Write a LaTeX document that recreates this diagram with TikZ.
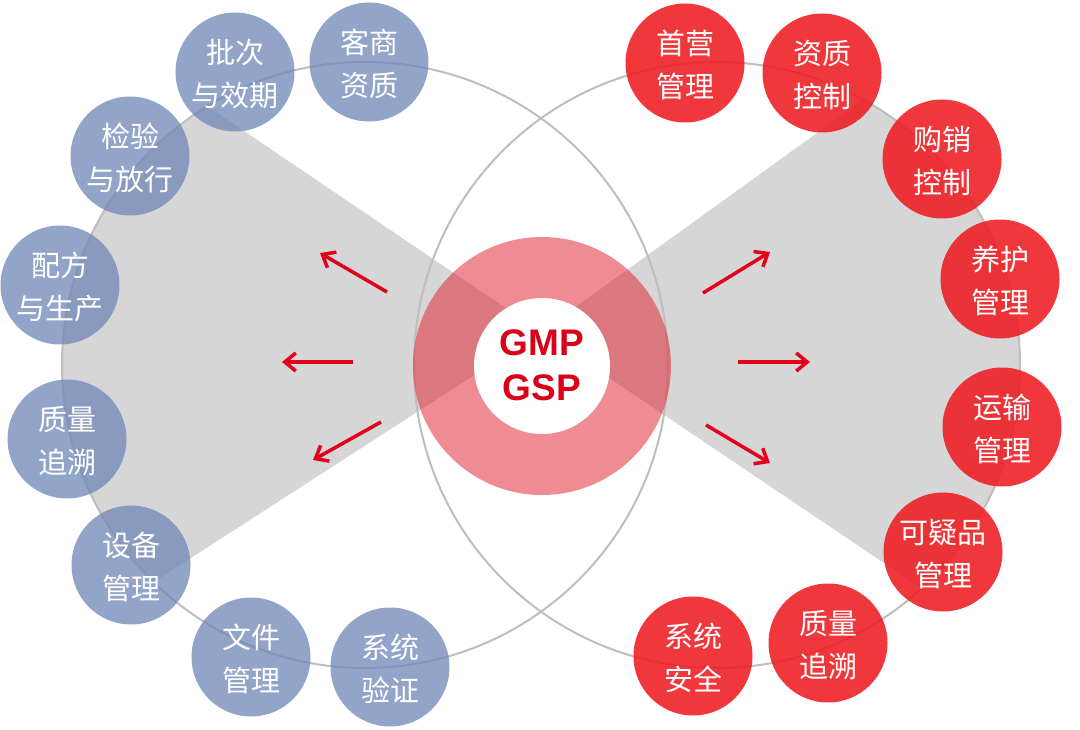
\documentclass[tikz,border=0pt]{standalone}
\usepackage{fontspec}
\newfontfamily\cjk{Noto Sans CJK SC}
\newfontfamily\gfont{Liberation Sans}
\usetikzlibrary{arrows.meta,calc}
\definecolor{nodeblue}{RGB}{112,134,183}
\definecolor{nodered}{RGB}{238,28,34}
\definecolor{wedgegray}{RGB}{214,214,214}
\definecolor{linegray}{RGB}{190,190,190}
\definecolor{ringred}{RGB}{225,25,41}
\definecolor{textred}{RGB}{218,0,24}
\definecolor{arrowred}{RGB}{226,0,26}
\begin{document}
\begin{tikzpicture}[x=1pt,y=-1pt,
  topic/.style={circle, minimum size=119pt, inner sep=0pt, text opacity=1, text=white, align=center, font=\cjk\fontsize{29pt}{43pt}\selectfont},
  bluetopic/.style={topic, fill=nodeblue, fill opacity=0.75},
  redtopic/.style={topic, fill=nodered, fill opacity=0.88},
  label/.style={yshift=-2pt},
  bigring/.style={draw=linegray, line width=2pt},
  wedge/.style={fill=wedgegray},
  flow/.style={draw=arrowred, line width=3.5pt, -{Straight Barb[length=11pt,width=18pt]}}
]
\useasboundingbox (0,0) rectangle (1080,730);
\fill[white] (0,0) rectangle (1080,730);
\coordinate (apex) at (541,332);
\coordinate (Lc) at (365,365);
\coordinate (Rc) at (717,365);
% grey wedges
\begin{scope}
  \clip (Lc) circle[radius=303pt];
  \fill[wedge] (apex) -- ($(apex)!2.5!(247,133)$) -- ($(apex)!2.5!(160,578)$) -- cycle;
\end{scope}
\begin{scope}
  \clip (Rc) circle[radius=303pt];
  \fill[wedge] (apex) -- ($(apex)!2.5!(817,133)$) -- ($(apex)!2.5!(887,565)$) -- cycle;
\end{scope}
% big circles
\draw[bigring] (Lc) circle[radius=303pt];
\draw[bigring] (Rc) circle[radius=303pt];
% centre ring
\coordinate (Cc) at (542,366);
\fill[ringred, fill opacity=0.5] (Cc) circle[radius=129pt];
\fill[white] (Cc) circle[radius=68pt];
\node[font=\gfont\bfseries\fontsize{37pt}{45pt}\selectfont, text=textred, align=center, inner sep=0pt] (core) at (542,365) {GMP\\GSP};
% arrows
\coordinate (la1s) at (387,292); \coordinate (la1e) at (320,253);
\coordinate (la2s) at (353,362); \coordinate (la2e) at (282,362);
\coordinate (la3s) at (381,422); \coordinate (la3e) at (313,460);
\coordinate (ra1s) at (703,293); \coordinate (ra1e) at (770,252);
\coordinate (ra2s) at (738,362); \coordinate (ra2e) at (810,362);
\coordinate (ra3s) at (706,425); \coordinate (ra3e) at (770,463);
\draw[flow] (la1s) -- (la1e);
\draw[flow] (la2s) -- (la2e);
\draw[flow] (la3s) -- (la3e);
\draw[flow] (ra1s) -- (ra1e);
\draw[flow] (ra2s) -- (ra2e);
\draw[flow] (ra3s) -- (ra3e);
% left topics
\node[bluetopic] (b1) at (369,62) {};
\node[bluetopic] (b2) at (235,72) {};
\node[bluetopic] (b3) at (130,156) {};
\node[bluetopic] (b4) at (60,285) {};
\node[bluetopic] (b5) at (67,439) {};
\node[bluetopic] (b6) at (131,565) {};
\node[bluetopic] (b7) at (251,657) {};
\node[bluetopic] (b8) at (390,667) {};
% right topics
\node[redtopic] (r1) at (685,63) {};
\node[redtopic] (r2) at (822,73) {};
\node[redtopic] (r3) at (942,159) {};
\node[redtopic] (r4) at (1000,279) {};
\node[redtopic] (r5) at (1002,427) {};
\node[redtopic] (r6) at (943,552) {};
\node[redtopic] (r7) at (828,643) {};
\node[redtopic] (r8) at (693,656) {};
% labels
\node[topic, label] at (b1) {客商\\资质};
\node[topic, label] at (b2) {批次\\与效期};
\node[topic, label] at (b3) {检验\\与放行};
\node[topic, label] at (b4) {配方\\与生产};
\node[topic, label] at (b5) {质量\\追溯};
\node[topic, label] at (b6) {设备\\管理};
\node[topic, label] at (b7) {文件\\管理};
\node[topic, label] at (b8) {系统\\验证};
\node[topic, label] at (r1) {首营\\管理};
\node[topic, label] at (r2) {资质\\控制};
\node[topic, label] at (r3) {购销\\控制};
\node[topic, label] at (r4) {养护\\管理};
\node[topic, label] at (r5) {运输\\管理};
\node[topic, label] at (r6) {可疑品\\管理};
\node[topic, label] at (r7) {质量\\追溯};
\node[topic, label] at (r8) {系统\\安全};
\end{tikzpicture}
\end{document}
